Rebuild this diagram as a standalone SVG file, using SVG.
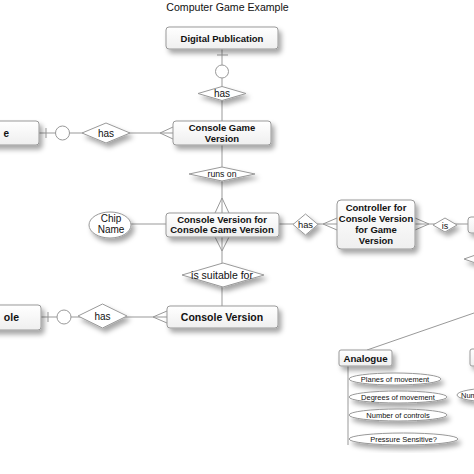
<svg xmlns="http://www.w3.org/2000/svg" width="474" height="474" viewBox="0 0 474 474">
<defs>
<filter id="sh" x="-30%" y="-30%" width="170%" height="190%">
<feDropShadow dx="3" dy="4" stdDeviation="2.5" flood-color="#000" flood-opacity="0.35"/>
</filter>
<linearGradient id="gf" x1="0" y1="0" x2="0" y2="1">
<stop offset="0" stop-color="#ffffff"/>
<stop offset="1" stop-color="#efefef"/>
</linearGradient>
</defs>
<style>
.box{fill:url(#gf);stroke:#999;stroke-width:1;filter:url(#sh)}
.dia{fill:#fff;stroke:#999;stroke-width:1;filter:url(#sh)}
.ell{fill:#fff;stroke:#999;stroke-width:1;filter:url(#sh)}
.ln{fill:none;stroke:#999;stroke-width:1}
.cir{fill:#fff;stroke:#999;stroke-width:1}
.b{font-family:"Liberation Sans",Arial,sans-serif;font-weight:bold;font-size:9.5px;fill:#111;text-anchor:middle}
.r{font-family:"Liberation Sans",Arial,sans-serif;font-size:9.5px;fill:#111;text-anchor:middle}
.a{font-family:"Liberation Sans",Arial,sans-serif;font-size:7.5px;fill:#111;text-anchor:middle}
</style>
<rect width="474" height="474" fill="#fff"/>
<text x="227.5" y="11" class="r" style="font-size:10.6px">Computer Game Example</text>

<g id="connectors">
<line class="ln" x1="222" y1="49" x2="222" y2="121"/>
<line class="ln" x1="217" y1="55" x2="228" y2="55"/>
<line class="ln" x1="222" y1="145" x2="222" y2="213"/>
<polyline class="ln" points="215,213 222,198 229,213"/>
<line class="ln" x1="222" y1="237" x2="222" y2="306"/>
<polyline class="ln" points="215,237 222,251 229,237"/>
<line class="ln" x1="39" y1="133" x2="173" y2="133"/>
<line class="ln" x1="46" y1="128" x2="46" y2="138"/>
<polyline class="ln" points="173,127 160,133 173,139"/>
<line class="ln" x1="41" y1="317" x2="167" y2="317"/>
<line class="ln" x1="48" y1="312" x2="48" y2="322"/>
<polyline class="ln" points="167,311 153,317 167,323"/>
<line class="ln" x1="131" y1="224" x2="166" y2="224"/>
<line class="ln" x1="279" y1="224" x2="337" y2="224"/>
<polyline class="ln" points="337,218 323,224 337,230"/>
<line class="ln" x1="415" y1="224" x2="470" y2="224"/>
<polyline class="ln" points="415,218 429,224 415,230"/>
<line class="ln" x1="367" y1="350" x2="474" y2="313"/>
<line class="ln" x1="348" y1="366" x2="348" y2="445"/>
</g>

<g id="n-title-digital">
<rect class="box" x="166" y="27" width="112" height="22" rx="3"/>
<text x="222" y="42" class="b">Digital Publication</text>
</g>
<circle class="cir" cx="222" cy="71.5" r="6.5"/>
<circle class="cir" cx="62.5" cy="133" r="7"/>
<circle class="cir" cx="64" cy="317" r="7"/>

<g id="r-has-top">
<polygon class="dia" points="198,93.5 222,86.5 246,93.5 222,100.5"/>
<text x="222" y="97" class="r" style="font-size:10px">has</text>
</g>

<g id="n-left-top">
<rect class="box" x="-30" y="121" width="69" height="24" rx="3"/>
<text x="9" y="137" class="b" style="text-anchor:end;font-size:10px">e</text>
</g>

<g id="r-has-left">
<polygon class="dia" points="82,133 106,123 130,133 106,143"/>
<text x="106" y="137" class="r" style="font-size:10px">has</text>
</g>

<g id="n-console-game-version">
<rect class="box" x="173" y="121" width="98" height="24" rx="3"/>
<text x="222" y="131" class="b">Console Game</text>
<text x="222" y="141.5" class="b">Version</text>
</g>

<g id="r-runs-on">
<polygon class="dia" points="189,174 222,167 255,174 222,181"/>
<text x="222" y="177" class="r" style="font-size:8.7px">runs on</text>
</g>

<g id="n-chip-name">
<ellipse class="ell" cx="110" cy="225" rx="21" ry="13"/>
<text x="111" y="222" class="r" style="font-size:10px">Chip</text>
<text x="111" y="233" class="r" style="font-size:10px">Name</text>
</g>

<g id="n-cvfcgv">
<rect class="box" x="166" y="213" width="113" height="24" rx="3"/>
<text x="222" y="222.5" class="b">Console Version for</text>
<text x="222" y="233" class="b">Console Game Version</text>
</g>

<g id="r-has-ctrl">
<polygon class="dia" points="293,224.5 305.5,214 318,224.5 305.5,235"/>
<text x="305.5" y="228" class="r" style="font-size:9.3px">has</text>
</g>

<g id="n-controller">
<rect class="box" x="337" y="200" width="78" height="49" rx="4"/>
<text x="376" y="211" class="b">Controller for</text>
<text x="376" y="222" class="b">Console Version</text>
<text x="376" y="233" class="b">for Game</text>
<text x="376" y="244" class="b">Version</text>
</g>

<g id="r-is">
<polygon class="dia" points="433,225 445,218 457,225 445,232"/>
<text x="445" y="228.5" class="r" style="font-size:9px">is</text>
</g>

<g id="n-right-box">
<rect class="box" x="468" y="217" width="40" height="16" rx="3"/>
</g>
<g id="r-right-dia">
<polygon class="dia" points="464,259 490,250 516,259 490,268"/>
</g>

<g id="r-is-suitable">
<polygon class="dia" points="182,275 223,263 264,275 223,287"/>
<text x="222" y="278.5" class="r" style="font-size:10.5px">is suitable for</text>
</g>

<g id="n-left-bottom">
<rect class="box" x="-30" y="305" width="71" height="25" rx="3"/>
<text x="19" y="321" class="b" style="text-anchor:end;font-size:10.5px">ole</text>
</g>

<g id="r-has-bottom">
<polygon class="dia" points="78,316 102.5,304 127,316 102.5,328"/>
<text x="102.5" y="320" class="r" style="font-size:10px">has</text>
</g>

<g id="n-console-version">
<rect class="box" x="167" y="306" width="111" height="22" rx="3"/>
<text x="222" y="321" class="b" style="font-size:10.5px">Console Version</text>
</g>

<g id="n-analogue">
<rect class="box" x="339" y="350" width="53" height="16" rx="2"/>
<text x="365.5" y="361.5" class="b" style="font-size:9.7px">Analogue</text>
</g>

<g id="n-right-bottom-box">
<rect class="box" x="470" y="349" width="40" height="17" rx="2"/>
</g>

<g id="a-planes">
<ellipse class="ell" cx="395" cy="379" rx="46" ry="6"/>
<text x="395" y="381.6" class="a">Planes of movement</text>
</g>
<g id="a-degrees">
<ellipse class="ell" cx="398" cy="397" rx="49" ry="6"/>
<text x="398" y="399.6" class="a">Degrees of movement</text>
</g>
<g id="a-number">
<ellipse class="ell" cx="398" cy="415" rx="49" ry="6"/>
<text x="398" y="417.6" class="a">Number of controls</text>
</g>
<g id="a-pressure">
<ellipse class="ell" cx="403.5" cy="439" rx="54.5" ry="6"/>
<text x="403.5" y="441.6" class="a">Pressure Sensitive?</text>
</g>
<g id="a-num-right">
<ellipse class="ell" cx="495" cy="395" rx="38" ry="7"/>
<text x="461" y="397.6" class="a" style="text-anchor:start">Num</text>
</g>
</svg>
